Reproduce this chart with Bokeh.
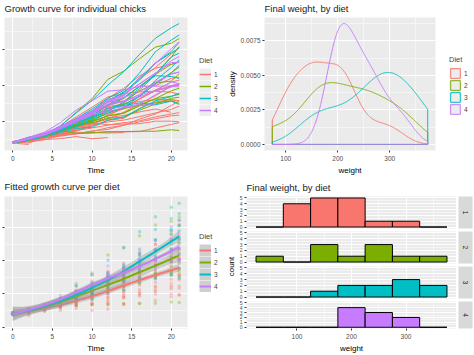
import numpy as np
from bokeh.plotting import figure
from bokeh.models import (Range1d, FixedTicker, Legend, LegendItem, Label, Grid,
                          PrintfTickFormatter)
from bokeh.layouts import row, column
from bokeh.embed import file_html
from bokeh.resources import INLINE

FONT = "Liberation Sans"
COLORS = ["#F8766D", "#7CAE00", "#00BFC4", "#C77CFF"]
DIETS = ["1", "2", "3", "4"]

# ChickWeight: weight per chick at these days
times = [0, 2, 4, 6, 8, 10, 12, 14, 16, 18, 20, 21]
diet1_weights = [
    [42, 51, 59, 64, 76, 93, 106, 125, 149, 171, 199, 205],
    [40, 49, 58, 72, 84, 103, 122, 138, 162, 187, 209, 215],
    [43, 39, 55, 67, 84, 99, 115, 138, 163, 187, 198, 202],
    [42, 49, 56, 67, 74, 87, 102, 108, 136, 154, 160, 157],
    [41, 42, 48, 60, 79, 106, 141, 164, 197, 199, 220, 223],
    [41, 49, 59, 74, 97, 124, 141, 148, 155, 160, 160, 157],
    [41, 49, 57, 71, 89, 112, 146, 174, 218, 250, 288, 305],
    [42, 50, 61, 71, 84, 93, 110, 116, 126, 134, 125],
    [42, 51, 59, 68, 85, 96, 90, 92, 93, 100, 100, 98],
    [41, 44, 52, 63, 74, 81, 89, 96, 101, 112, 120, 124],
    [43, 51, 63, 84, 112, 139, 168, 177, 182, 184, 181, 175],
    [41, 49, 56, 62, 72, 88, 119, 135, 162, 185, 195, 205],
    [41, 48, 53, 60, 65, 67, 71, 70, 71, 81, 91, 96],
    [41, 49, 62, 79, 101, 128, 164, 192, 227, 248, 259, 266],
    [41, 49, 56, 64, 68, 68, 67, 68],
    [41, 45, 49, 51, 57, 51, 54],
    [42, 51, 61, 72, 83, 89, 98, 103, 113, 123, 133, 142],
    [39, 35],
    [43, 48, 55, 62, 65, 71, 82, 88, 106, 120, 144, 157],
    [41, 47, 54, 58, 65, 73, 77, 89, 98, 107, 115, 117],
]
diet2_weights = [
    [40, 50, 62, 86, 125, 163, 217, 240, 275, 307, 318, 331],
    [41, 55, 64, 77, 90, 95, 108, 111, 131, 148, 164, 167],
    [43, 52, 61, 73, 90, 103, 127, 135, 145, 163, 170, 175],
    [42, 52, 58, 74, 66, 68, 70, 71, 72, 72, 76, 74],
    [40, 49, 62, 78, 102, 124, 146, 164, 197, 231, 259, 265],
    [42, 48, 57, 74, 93, 114, 136, 147, 169, 205, 236, 251],
    [39, 46, 58, 73, 87, 100, 115, 123, 144, 163, 185, 192],
    [39, 46, 58, 73, 92, 114, 145, 156, 184, 207, 212, 233],
    [39, 48, 59, 74, 87, 106, 134, 150, 187, 230, 279, 309],
    [42, 48, 59, 72, 85, 98, 115, 122, 143, 151, 157, 150],
]
diet3_weights = [
    [42, 53, 62, 73, 85, 102, 123, 138, 170, 204, 235, 256],
    [41, 49, 65, 82, 107, 129, 159, 179, 221, 263, 291, 305],
    [39, 50, 63, 77, 96, 111, 137, 144, 151, 146, 156, 147],
    [41, 49, 63, 85, 107, 134, 164, 186, 235, 294, 327, 341],
    [41, 53, 64, 87, 123, 158, 201, 238, 287, 332, 361, 373],
    [39, 48, 61, 76, 98, 116, 145, 166, 198, 227, 225, 220],
    [41, 48, 56, 68, 80, 83, 103, 112, 135, 157, 169, 178],
    [41, 49, 61, 74, 98, 109, 128, 154, 192, 232, 280, 290],
    [42, 50, 61, 78, 89, 109, 130, 146, 170, 214, 250, 272],
    [41, 55, 66, 79, 101, 120, 154, 182, 215, 262, 295, 321],
]
diet4_weights = [
    [42, 51, 66, 85, 103, 124, 155, 153, 175, 184, 199, 204],
    [42, 49, 63, 84, 103, 126, 160, 174, 204, 234, 269, 281],
    [42, 55, 69, 96, 131, 157, 184, 188, 197, 198, 199, 200],
    [42, 51, 65, 86, 103, 118, 127, 138, 145, 146],
    [41, 50, 61, 78, 98, 117, 135, 141, 147, 174, 197, 196],
    [40, 52, 62, 82, 101, 120, 144, 156, 173, 210, 231, 238],
    [41, 53, 66, 79, 100, 123, 148, 157, 168, 185, 210, 205],
    [39, 50, 62, 80, 104, 125, 154, 170, 222, 261, 303, 322],
    [40, 53, 64, 85, 108, 128, 152, 166, 184, 203, 233, 237],
    [41, 54, 67, 84, 105, 122, 155, 175, 205, 234, 264, 264],
]
ALL = [diet1_weights, diet2_weights, diet3_weights, diet4_weights]

# histogram of final weight (day 21), binwidth 50
bin_edges = [25, 75, 125, 175, 225, 275, 325, 375]
hist_diet1 = [0, 4, 5, 5, 1, 1, 0]
hist_diet2 = [1, 0, 3, 1, 3, 1, 1]
hist_diet3 = [0, 0, 1, 2, 2, 3, 2]
hist_diet4 = [0, 0, 0, 4, 3, 2, 0]
HISTS = [hist_diet1, hist_diet2, hist_diet3, hist_diet4]


def style_axis(ax, label_size="6.5px"):
    ax.axis_line_color = None
    ax.major_tick_line_color = "#333333"
    ax.major_tick_out = 2
    ax.major_tick_in = 0
    ax.minor_tick_line_color = None
    ax.major_label_text_font = FONT
    ax.major_label_text_font_size = label_size
    ax.major_label_text_color = "#4D4D4D"
    ax.major_label_standoff = 1
    ax.axis_label_text_font = FONT
    ax.axis_label_text_font_size = "8px"
    ax.axis_label_text_font_style = "normal"
    ax.axis_label_text_color = "black"
    ax.axis_label_standoff = 2


def base_fig(w, h, xr, yr, l, r, t, b, **kw):
    p = figure(width=w, height=h, x_range=xr, y_range=yr, output_backend="svg",
               toolbar_location=None, min_border_left=l, min_border_right=r,
               min_border_top=t, min_border_bottom=b, **kw)
    p.background_fill_color = "#EBEBEB"
    p.border_fill_color = "white"
    p.outline_line_color = None
    for g in p.grid:
        g.grid_line_color = "white"
        g.grid_line_width = 1
        g.minor_grid_line_color = "white"
        g.minor_grid_line_width = 0.5
    for ax in p.axis:
        style_axis(ax)
    return p


def set_ticks(p, dim, ticks, minor):
    tk = FixedTicker(ticks=ticks, minor_ticks=minor)
    if dim == "x":
        p.xaxis.ticker = tk
        p.xgrid.ticker = tk
    else:
        p.yaxis.ticker = tk
        p.ygrid.ticker = tk


def set_title(p, text, standoff):
    p.title.text = text
    p.title.text_font = FONT
    p.title.text_font_size = "9.5px"
    p.title.text_font_style = "normal"
    p.title.text_color = "#1A1A1A"
    p.title.align = "left"
    p.title.vertical_align = "top"
    p.title.offset = 0
    p.title.standoff = standoff


def legend_fig(w, h, kind, bg_color, lw, loc):
    """Separate small figure holding the 'Diet' legend; its renderers carry the
    diet's data but are hidden (the figure's ranges show none of it)."""
    lf = figure(width=w, height=h, x_range=Range1d(1000, 1001), y_range=Range1d(1000, 1001),
                output_backend="svg", toolbar_location=None, title=None,
                x_axis_type=None, y_axis_type=None, min_border=0)
    lf.outline_line_color = None
    lf.background_fill_color = "white"
    lf.border_fill_color = "white"
    items = []
    for k in range(4):
        bg = lf.line(x=times[:len(ALL[k][0])], y=ALL[k][0], line_color=bg_color,
                     line_width=12, visible=False)
        if kind == "box":
            r = lf.quad(left=bin_edges[:-1], right=bin_edges[1:], top=HISTS[k], bottom=0,
                        fill_color=None, line_color=COLORS[k], line_width=lw, visible=False)
        else:
            r = lf.line(x=times[:len(ALL[k][0])], y=ALL[k][0], line_color=COLORS[k],
                        line_width=lw, visible=False)
        items.append(LegendItem(label=DIETS[k], renderers=[bg, r]))
    lg = Legend(items=items, location=loc, title="Diet", orientation="vertical")
    lg.title_text_font = FONT
    lg.title_text_font_size = "7.5px"
    lg.title_text_font_style = "normal"
    lg.title_standoff = 3
    lg.label_text_font = FONT
    lg.label_text_font_size = "6.5px"
    lg.label_standoff = 3
    lg.label_height = 12
    lg.label_width = 6
    lg.glyph_width = 12
    lg.glyph_height = 12
    lg.spacing = 0
    lg.padding = 0
    lg.margin = 0
    lg.background_fill_alpha = 0
    lg.border_line_alpha = 0
    lf.add_layout(lg)
    return lf


# ---------------- A: individual growth curves ----------------
allw = [v for d in ALL for w in d for v in w]
ylo, yhi = min(allw), max(allw)
pad = 0.05 * (yhi - ylo)
A = base_fig(188, 177, Range1d(-1.05, 22.05), Range1d(ylo - pad, yhi + pad), 4, 1, 15, 22)
set_title(A, "Growth curve for individual chicks", 3)
set_ticks(A, "x", [0, 5, 10, 15, 20], [2.5, 7.5, 12.5, 17.5])
set_ticks(A, "y", [100, 200, 300], [50, 150, 250, 350])
A.xaxis.axis_label = "Time"
A.yaxis.major_label_overrides = {100: "", 200: "", 300: ""}
A.yaxis.major_label_standoff = 0
for k, dw in enumerate(ALL):
    xs = [times[:len(w)] for w in dw]
    A.multi_line(xs=xs, ys=dw, line_color=COLORS[k], line_width=1)
LA = legend_fig(34, 177, "line", "#EDEDED", 1.5, (11, 34))

# ---------------- B: density of final weight ----------------
finals = [[w[-1] for w in dw if len(w) == len(times)] for dw in ALL]
fall = [v for f in finals for v in f]
gx = np.linspace(min(fall), max(fall), 512)


def kde(vals, grid):
    v = np.asarray(vals, float)
    n = len(v)
    sd = v.std(ddof=1)
    q75, q25 = np.percentile(v, [75, 25])
    bw = 0.9 * min(sd, (q75 - q25) / 1.34) * n ** -0.2
    z = (grid[:, None] - v[None, :]) / bw
    return np.exp(-0.5 * z ** 2).sum(1) / (n * bw * np.sqrt(2 * np.pi))


dens = [kde(f, gx) for f in finals]
dmax = max(d.max() for d in dens)
xpad = 0.05 * (gx[-1] - gx[0])
B = base_fig(214, 177, Range1d(gx[0] - xpad, gx[-1] + xpad), Range1d(-0.05 * dmax, 1.05 * dmax),
             42, 1, 17, 23)
set_title(B, "Final weight, by diet", 4)
set_ticks(B, "x", [100, 200, 300], [50, 150, 250, 350])
set_ticks(B, "y", [0, 0.0025, 0.005, 0.0075], [0.00125, 0.00375, 0.00625, 0.00875])
B.yaxis.formatter = PrintfTickFormatter(format="%.4f")
B.yaxis.major_label_standoff = 0
B.yaxis.axis_label_standoff = 1
B.xaxis.axis_label = "weight"
B.yaxis.axis_label = "density"
for k, d in enumerate(dens):
    px = np.concatenate([gx, gx[::-1]])
    py = np.concatenate([d, np.zeros_like(d)])
    B.patch(px, py, fill_color=None, line_color=COLORS[k], line_width=1)
LB = legend_fig(38, 177, "box", "#EDEDED", 1, (13, 35))


# ---------------- C: fitted growth curve ----------------
def loess_fit(x, y, xs, span=0.75):
    x = np.asarray(x, float)
    y = np.asarray(y, float)
    n = len(x)
    q = int(np.floor(n * span))

    def lrow(x0):
        d = np.abs(x - x0)
        h = max(np.sort(d)[q - 1], 1e-9)
        u = np.clip(d / h, 0, 1)
        w = (1 - u ** 3) ** 3
        X = np.column_stack([np.ones(n), x - x0, (x - x0) ** 2])
        XtW = X.T * w
        return np.linalg.solve(XtW @ X, XtW)[0]

    Ld = np.array([lrow(v) for v in x])
    resid = y - Ld @ y
    M = np.eye(n) - Ld
    d1 = np.trace(M.T @ M)
    sigma = np.sqrt((resid ** 2).sum() / d1)
    Le = np.array([lrow(v) for v in xs])
    return Le @ y, sigma * np.sqrt((Le ** 2).sum(1))


C = base_fig(188, 178, Range1d(-1.05, 22.05), Range1d(-4, 393), 4, 1, 18, 21)
set_title(C, "Fitted growth curve per diet", 6)
set_ticks(C, "x", [0, 5, 10, 15, 20], [2.5, 7.5, 12.5, 17.5])
set_ticks(C, "y", [0, 100, 200, 300], [50, 150, 250, 350])
C.xaxis.axis_label = "Time"
C.yaxis.major_label_overrides = {0: "", 100: "", 200: "", 300: ""}
C.yaxis.major_label_standoff = 0
pts = []
for k, dw in enumerate(ALL):
    px = [t for w in dw for t in times[:len(w)]]
    py = [v for w in dw for v in w]
    pts.append((px, py))
    C.scatter(px, py, size=3.5, fill_color=COLORS[k], line_color=None, alpha=0.35)
xs_fit = np.linspace(0, 21, 80)
for k, (px, py) in enumerate(pts):
    fit, se = loess_fit(px, py, xs_fit)
    C.varea(x=xs_fit, y1=fit - 1.97 * se, y2=fit + 1.97 * se, fill_color="#999999", fill_alpha=0.4)
    C.line(xs_fit, fit, line_color=COLORS[k], line_width=2)
LC = legend_fig(38, 178, "line", "#CFCFCF", 2, (11, 36))

# ---------------- D: faceted histogram ----------------
xr_hist = Range1d(bin_edges[0] - 17.5, bin_edges[-1] + 17.5)
specs = [(52, 19, 1), (35, 2, 1), (35, 2, 1), (56, 2, 22)]
rows = []
for k in range(4):
    h, t, b = specs[k]
    last = k == 3
    f = figure(width=220, height=h, x_range=xr_hist, y_range=Range1d(-0.25, 5.25),
               output_backend="svg", toolbar_location=None,
               x_axis_type="linear" if last else None, title=None if k > 0 else "",
               min_border_left=7, min_border_right=0, min_border_top=t, min_border_bottom=b)
    f.background_fill_color = "#EBEBEB"
    f.border_fill_color = "white"
    f.outline_line_color = None
    xt = FixedTicker(ticks=[100, 200, 300], minor_ticks=[50, 150, 250, 350])
    if last:
        f.xaxis.ticker = xt
        f.xaxis.axis_label = "weight"
        f.xgrid.ticker = xt
    else:
        f.add_layout(Grid(dimension=0, ticker=xt))
    yt = FixedTicker(ticks=[0, 1, 2, 3, 4, 5], minor_ticks=[0.5, 1.5, 2.5, 3.5, 4.5])
    f.yaxis.ticker = yt
    f.ygrid.ticker = yt
    for g in f.grid:
        g.grid_line_color = "white"
        g.grid_line_width = 1
        g.minor_grid_line_color = "white"
        g.minor_grid_line_width = 0.5
    for ax in f.axis:
        style_axis(ax)
    f.yaxis.major_label_text_font_size = "5px"
    f.yaxis.major_label_standoff = 0
    if k == 0:
        set_title(f, "Final weight, by diet", 4)
    f.quad(left=bin_edges[:-1], right=bin_edges[1:], bottom=0, top=HISTS[k],
           fill_color=COLORS[k], line_color="black", line_width=1)
    s = figure(width=18, height=h, x_range=Range1d(0, 1), y_range=Range1d(0, 1),
               output_backend="svg", toolbar_location=None, title=None,
               x_axis_type=None, y_axis_type=None,
               min_border_left=2, min_border_right=2, min_border_top=t, min_border_bottom=b)
    s.background_fill_color = "#D9D9D9"
    s.border_fill_color = "white"
    s.outline_line_color = None
    s.add_layout(Label(x=0.5, y=0.5, text=DIETS[k], angle=-np.pi / 2, text_align="center",
                       text_baseline="middle", text_font=FONT, text_font_size="6.5px",
                       text_color="#1A1A1A"))
    rows.append(row(f, s))

cnt = figure(width=10, height=178, x_range=Range1d(0, 1), y_range=Range1d(0, 1),
             output_backend="svg", toolbar_location=None, title=None,
             x_axis_type=None, y_axis_type=None, min_border=0)
cnt.outline_line_color = None
cnt.background_fill_color = "white"
cnt.border_fill_color = "white"
cnt.add_layout(Label(x=0.5, y=0.5, text="count", angle=np.pi / 2, text_align="center",
                     text_baseline="middle", text_font=FONT, text_font_size="8px",
                     text_color="black"))

D = row(cnt, column(*rows))
layout = column(row(A, LA, B, LB), row(C, LC, D))

open("out.html", "w").write(file_html(layout, INLINE))
